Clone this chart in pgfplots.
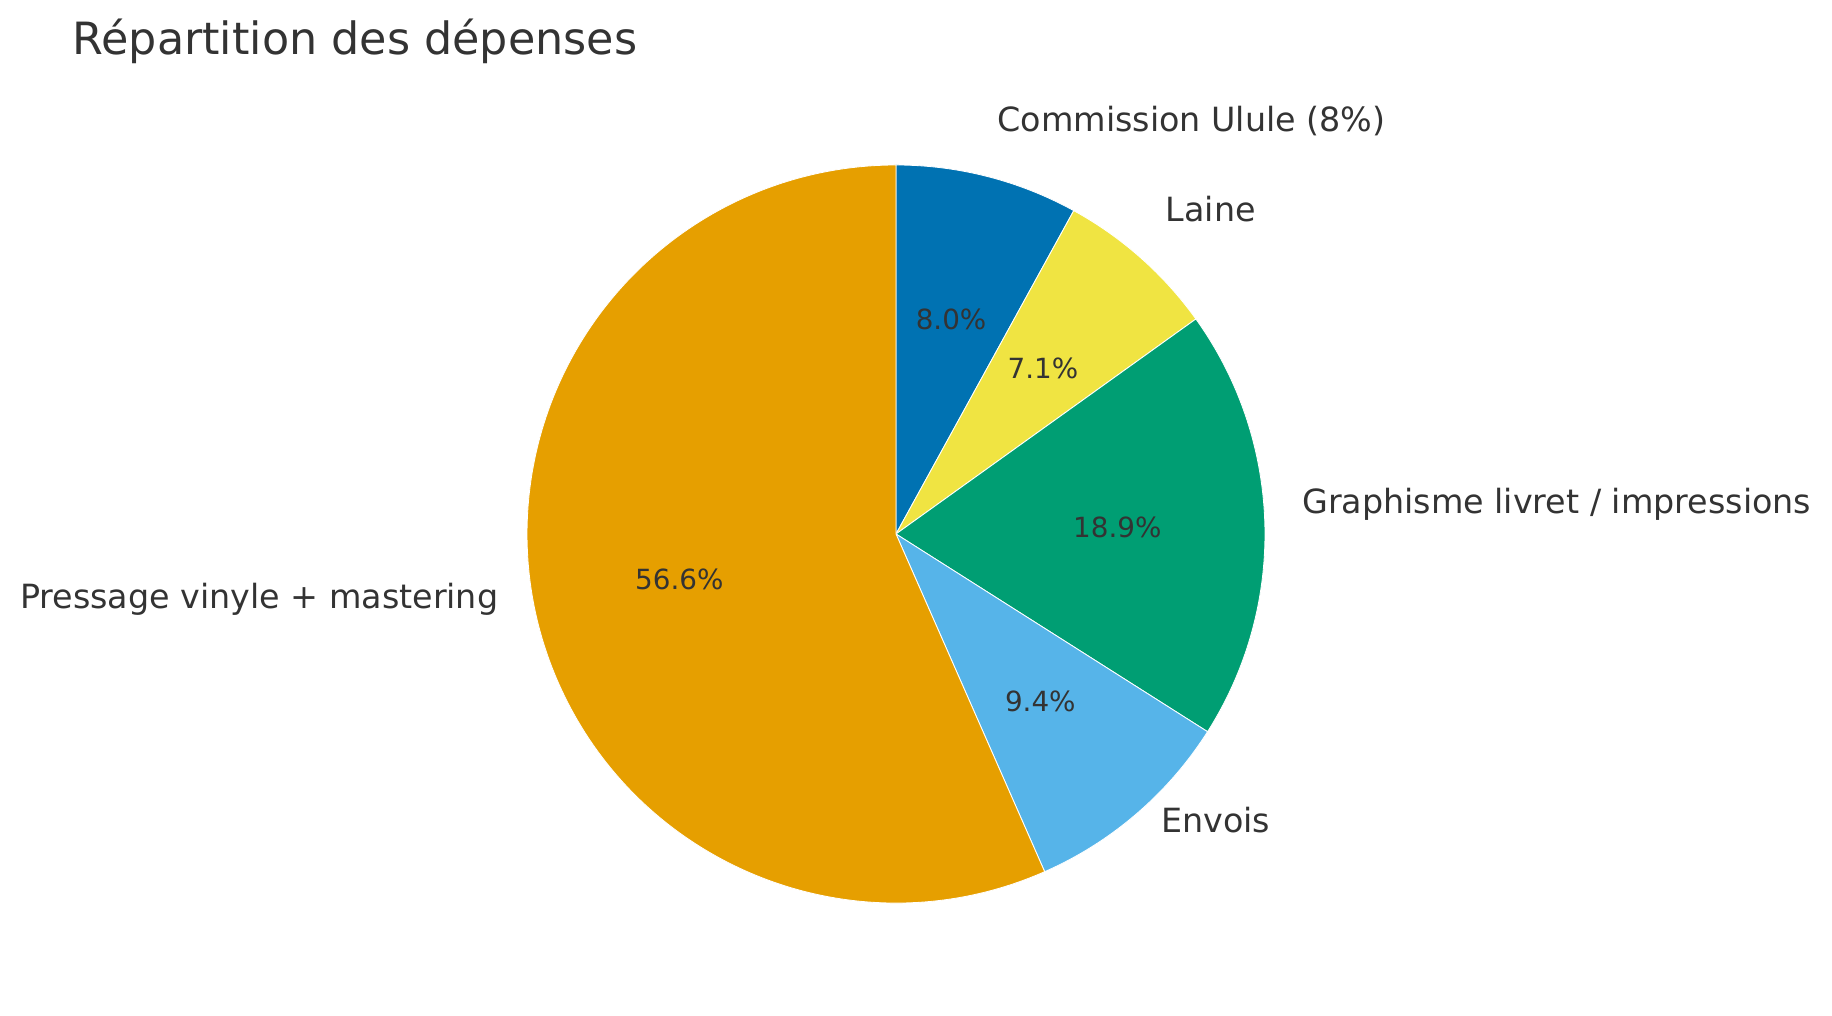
\documentclass[border=0pt]{standalone}
\usepackage{fontspec}
\setmainfont{DejaVu Sans}
\usepackage{pgfplots}
\usepackage{pgfplotstable}
\pgfplotsset{compat=1.18}
\definecolor{c0}{HTML}{0072B2}
\definecolor{c1}{HTML}{F0E442}
\definecolor{c2}{HTML}{009E73}
\definecolor{c3}{HTML}{56B4E9}
\definecolor{c4}{HTML}{E69F00}
\definecolor{txt}{HTML}{333333}
\pgfplotstableread[col sep=comma]{
label,pct
Commission Ulule (8\%),8.0
Laine,7.1
Graphisme livret / impressions,18.9
Envois,9.4
Pressage vinyle + mastering,56.6
}\depenses
\begin{document}
\begin{tikzpicture}
\begin{axis}[hide axis, scale only axis, width=659.52pt, height=365.76pt,
  xmin=0, xmax=1832, ymin=0, ymax=1016, clip=false]
\addplot[draw=none] coordinates {(0,0) (1832,1016)};
\def\R{132.84pt}
\def\cum{0}
\pgfplotsforeachungrouped \i in {0,...,4}{%
  \pgfplotstablegetelem{\i}{pct}\of\depenses \let\p\pgfplotsretval
  \pgfplotstablegetelem{\i}{label}\of\depenses \let\lbl\pgfplotsretval
  \pgfmathsetmacro\a{90-3.6*\cum}%
  \pgfmathsetmacro\b{90-3.6*(\cum+\p)}%
  \pgfmathsetmacro\m{(\a+\b)/2}%
  \pgfmathsetmacro\cx{cos(\m)}%
  \ifdim\cx pt>0pt \def\anc{base west}\else\def\anc{base east}\fi
  \edef\temp{%
    \noexpand\fill[c\i, draw=white, line width=0.3pt] (axis cs:896,482) -- ++(\a:\R) arc[start angle=\a, end angle=\b, radius=\R] -- cycle;
    \noexpand\path (axis cs:896,482) ++(\m:0.6*\R) node[anchor=base, yshift=-3.6pt, inner sep=0pt, text=txt, font=\noexpand\fontsize{10}{12}\noexpand\selectfont] {\p\noexpand\%};
    \noexpand\path (axis cs:896,482) ++(\m:1.1*\R) node[anchor=\anc, yshift=3.2pt, inner sep=0pt, text=txt, font=\noexpand\fontsize{12}{14}\noexpand\selectfont] {\unexpanded\expandafter{\lbl}};
  }%
  \temp
  \pgfmathsetmacro\cum{\cum+\p}%
}
\node[anchor=base west, inner sep=0pt, text=txt, font=\fontsize{16}{19}\selectfont] at (axis cs:72,961) {Répartition des dépenses};
\end{axis}
\end{tikzpicture}
\end{document}
